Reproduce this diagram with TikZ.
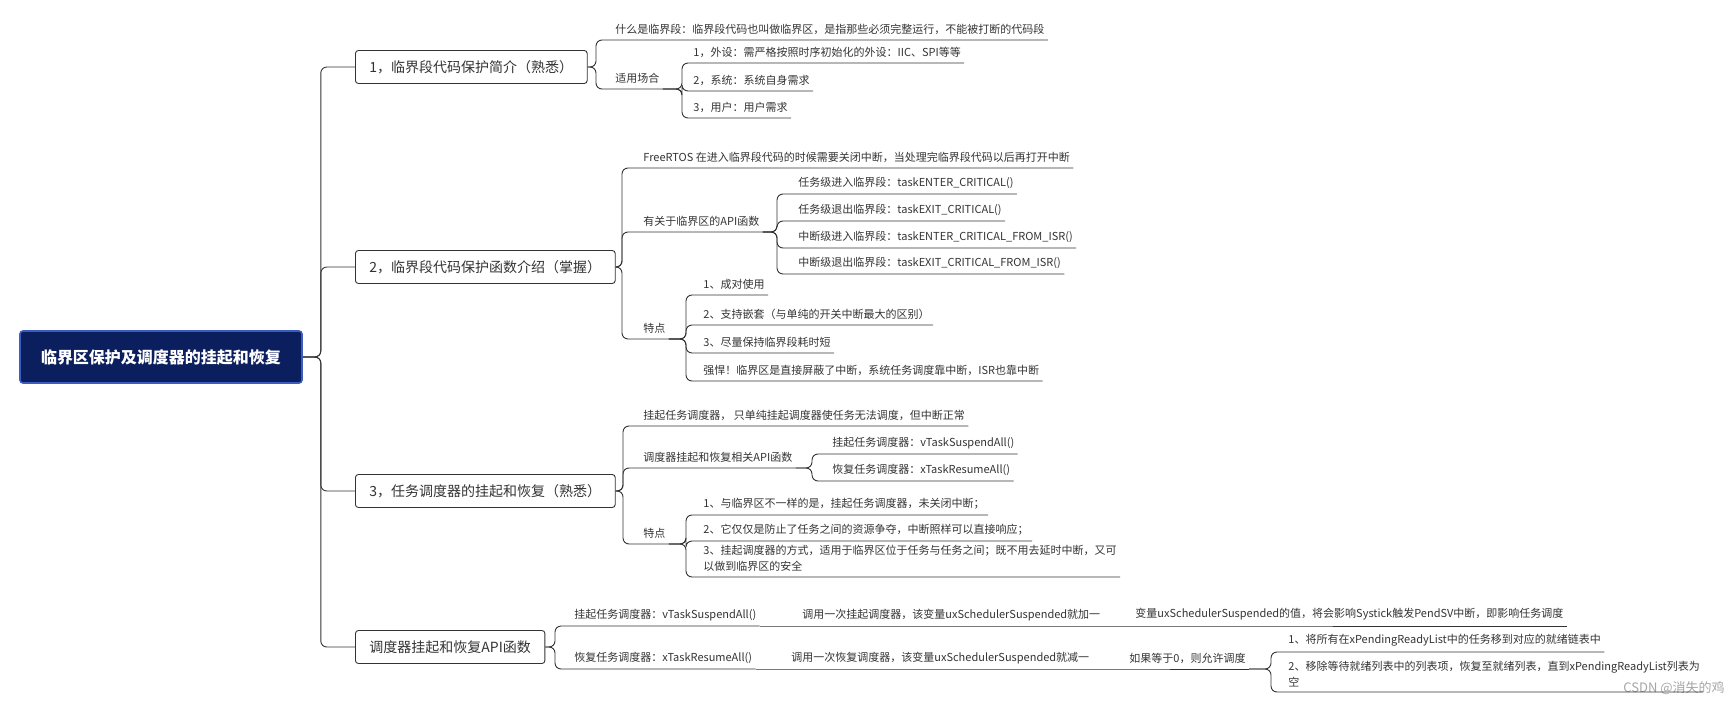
\documentclass[tikz,border=0pt]{standalone}
\usepackage{fontspec}
\setmainfont{Noto Sans CJK SC}
\usepackage{xcolor}
\definecolor{rootblue}{HTML}{0B1F5E}
\definecolor{rootedge}{HTML}{3C5CC0}
\definecolor{inkgray}{HTML}{333333}

\begin{document}
\begin{tikzpicture}[x=1pt,y=-1pt,color=inkgray,line width=0.9pt,
    root node/.style={draw=rootedge,fill=rootblue,text=white,line width=1.6pt,rounded corners=3pt,minimum width=282pt,minimum height=52pt,font=\fontsize{16}{18}\selectfont\bfseries},
    main node/.style={draw,rounded corners=3pt,anchor=west,minimum height=33pt,inner xsep=14pt,font=\fontsize{14}{16}\selectfont},
    leaf node/.style={anchor=south west,inner xsep=3pt,inner ysep=5pt,font=\fontsize{11}{16}\selectfont,align=left},
    branch/.style={rounded corners=6pt}]
                \useasboundingbox (0,0) rectangle (1730,704);
                \node[root node] (root) at (161,357) {临界区保护及调度器的挂起和恢复};
                \node[main node] (1) at (355,67) {1，临界段代码保护简介（熟悉）};
                \node[main node] (2) at (355,267) {2，临界段代码保护函数介绍（掌握）};
                \node[main node] (3) at (355,491) {3，任务调度器的挂起和恢复（熟悉）};
                \node[main node] (4) at (355,647) {调度器挂起和恢复API函数};

                % branch 1
                \node[leaf node] (w1) at (612,40) {什么是临界段：临界段代码也叫做临界区，是指那些必须完整运行，不能被打断的代码段};
                \node[leaf node] (w2) at (612,89) {适用场合};
                \node[leaf node] (w21) at (690,63) {1，外设：需严格按照时序初始化的外设：IIC、SPI等等};
                \node[leaf node] (w22) at (690,91) {2，系统：系统自身需求};
                \node[leaf node] (w23) at (690,118) {3，用户：用户需求};

                % branch 2
                \node[leaf node] (f1) at (640,168) {FreeRTOS 在进入临界段代码的时候需要关闭中断，当处理完临界段代码以后再打开中断};
                \node[leaf node] (a1) at (640,232) {有关于临界区的API函数};
                \node[leaf node] (a11) at (795,194) {任务级进入临界段：taskENTER\_CRITICAL()};
                \node[leaf node] (a12) at (795,221) {任务级退出临界段：taskEXIT\_CRITICAL()};
                \node[leaf node] (a13) at (795,248) {中断级进入临界段：taskENTER\_CRITICAL\_FROM\_ISR()};
                \node[leaf node] (a14) at (795,274) {中断级退出临界段：taskEXIT\_CRITICAL\_FROM\_ISR()};
                \node[leaf node] (t1) at (640,339) {特点};
                \node[leaf node] (t11) at (700,295) {1、成对使用};
                \node[leaf node] (t12) at (700,325) {2、支持嵌套（与单纯的开关中断最大的区别）};
                \node[leaf node] (t13) at (700,353) {3、尽量保持临界段耗时短};
                \node[leaf node] (t14) at (700,381) {强悍！临界区是直接屏蔽了中断，系统任务调度靠中断，ISR也靠中断};

                % branch 3
                \node[leaf node] (g1) at (640,426) {挂起任务调度器， 只单纯挂起调度器使任务无法调度，但中断正常};
                \node[leaf node] (g2) at (640,468) {调度器挂起和恢复相关API函数};
                \node[leaf node] (g21) at (829,454) {挂起任务调度器：vTaskSuspendAll()};
                \node[leaf node] (g22) at (829,481) {恢复任务调度器：xTaskResumeAll()};
                \node[leaf node] (g3) at (640,544) {特点};
                \node[leaf node] (g31) at (700,515) {1、与临界区不一样的是，挂起任务调度器，未关闭中断；};
                \node[leaf node] (g32) at (700,541) {2、它仅仅是防止了任务之间的资源争夺，中断照样可以直接响应；};
                \node[leaf node] (g33) at (700,577) {3、挂起调度器的方式，适用于临界区位于任务与任务之间；既不用去延时中断，又可\\以做到临界区的安全};

                % branch 4
                \node[leaf node] (h1) at (571,626) {挂起任务调度器：vTaskSuspendAll()};
                \node[leaf node] (h2) at (799,626) {调用一次挂起调度器，该变量uxSchedulerSuspended就加一};
                \node[leaf node] (h3) at (1132,626) {变量uxSchedulerSuspended的值，将会影响Systick触发PendSV中断，即影响任务调度};
                \node[leaf node] (r1) at (571,669) {恢复任务调度器：xTaskResumeAll()};
                \node[leaf node] (r2) at (788,669) {调用一次恢复调度器，该变量uxSchedulerSuspended就减一};
                \node[leaf node] (r3) at (1126,669) {如果等于0，则允许调度};
                \node[leaf node] (r31) at (1285,652) {1、将所有在xPendingReadyList中的任务移到对应的就绪链表中};
                \node[leaf node] (r32) at (1285,692) {2、移除等待就绪列表中的列表项，恢复至就绪列表，直到xPendingReadyList列表为\\空};

                \node[text=black!35,font=\fontsize{13}{15}\selectfont] (mark) at (1674,688) {CSDN @消失的鸡};

                % trunk
                \draw[branch] (root.east) -- ++(18,0) |- (1.west);
                \draw[branch] (root.east) -- ++(18,0) |- (2.west);
                \draw[branch] (root.east) -- ++(18,0) |- (3.west);
                \draw[branch] (root.east) -- ++(18,0) |- (4.west);

                \draw[branch] (1.east) -- (596,67) |- (w1.south east);
                \draw[branch] (1.east) -- (596,67) |- (w2.south east);
                \draw[branch] (w2.south east) -- (682,89) |- (w21.south east);
                \draw[branch] (w2.south east) -- (682,89) |- (w22.south east);
                \draw[branch] (w2.south east) -- (682,89) |- (w23.south east);

                \draw[branch] (2.east) -- (622,267) |- (f1.south east);
                \draw[branch] (2.east) -- (622,267) |- (a1.south east);
                \draw[branch] (2.east) -- (622,267) |- (t1.south east);
                \foreach \n in {a11,a12,a13,a14}
                    \draw[branch] (a1.south east) -- (777,232) |- (\n.south east);
                \foreach \n in {t11,t12,t13,t14}
                    \draw[branch] (t1.south east) -- (686,339) |- (\n.south east);

                \draw[branch] (3.east) -- (623,491) |- (g1.south east);
                \draw[branch] (3.east) -- (623,491) |- (g2.south east);
                \draw[branch] (3.east) -- (623,491) |- (g3.south east);
                \foreach \n in {g21,g22}
                    \draw[branch] (g2.south east) -- (812,468) |- (\n.south east);
                \foreach \n in {g31,g32,g33}
                    \draw[branch] (g3.south east) -- (686,544) |- (\n.south east);

                \draw[branch] (4.east) -- (555,647) |- (h1.south east);
                \draw[branch] (4.east) -- (555,647) |- (r1.south east);
                \draw (h1.south east) -- (h2.south east) -- (h3.south east);
                \draw (r1.south east) -- (r2.south east) -- (r3.south east);
                \foreach \n in {r31,r32}
                    \draw[branch] (r3.south east) -- (1271,669) |- (\n.south east);
            \end{tikzpicture}
\end{document}
